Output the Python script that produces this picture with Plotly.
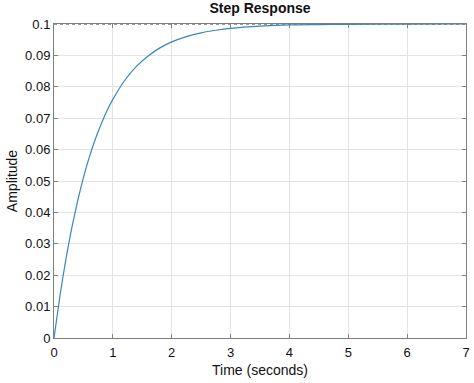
import plotly.graph_objects as go

# Time samples (seconds) and amplitudes
time_s = [0, 0.1, 0.2, 0.3, 0.4, 0.5, 0.6, 0.7, 0.8, 0.9, 1.0, 1.2, 1.4, 1.6, 1.8,
          2.0, 2.25, 2.5, 2.75, 3.0, 3.5, 4.0, 4.5, 5.0, 6.0, 7.0]
amplitude = [0, 0.0133, 0.0249, 0.0349, 0.0435, 0.0511, 0.0576, 0.0632, 0.0681,
             0.0724, 0.0760, 0.0820, 0.0865, 0.0898, 0.0924, 0.0943, 0.0960,
             0.0972, 0.0980, 0.0986, 0.0993, 0.0997, 0.0998, 0.0999, 0.09998, 0.1]
steady_state = 0.1
x_range = [0, 7]
y_tick_vals = [0, 0.01, 0.02, 0.03, 0.04, 0.05, 0.06, 0.07, 0.08, 0.09, 0.1]
y_tick_text = ["0", "0.01", "0.02", "0.03", "0.04", "0.05", "0.06", "0.07", "0.08", "0.09", "0.1"]
x_tick_vals = [0, 1, 2, 3, 4, 5, 6, 7]
x_tick_text = ["0", "1", "2", "3", "4", "5", "6", "7"]

FONT = "Liberation Sans, Arial, Helvetica, sans-serif"

fig = go.Figure()
fig.add_trace(go.Scatter(
    x=x_range, y=[steady_state, steady_state], mode="lines",
    line=dict(color="#333333", width=1, dash="dot"), hoverinfo="skip",
    showlegend=False))
fig.add_trace(go.Scatter(
    x=time_s, y=amplitude, mode="lines",
    line=dict(color="#3a86bd", width=1.2, shape="spline", smoothing=0.6),
    showlegend=False))

axis_common = dict(
    showline=True, linecolor="#7f7f7f", linewidth=1, mirror="ticks",
    ticks="inside", ticklen=4, tickcolor="#7f7f7f",
    showgrid=True, gridcolor="#e3e3e3", gridwidth=1, zeroline=False,
    automargin=False,
    tickfont=dict(family=FONT, size=13, color="#111111"),
)

fig.update_layout(
    width=474, height=383,
    margin=dict(l=54, r=8, t=24, b=45),
    paper_bgcolor="white", plot_bgcolor="white",
    title=dict(text="<b>Step Response</b>", x=0.5, xref="paper", xanchor="center",
               y=1 - 8 / 383, yref="container", yanchor="middle",
               font=dict(family=FONT, size=14, color="#111111")),
    xaxis=dict(range=[x_range[0], x_range[1] + 1e-6], tickvals=x_tick_vals,
               ticktext=x_tick_text, ticklabelstandoff=2,
               title=dict(text="Time (seconds)", standoff=6,
                          font=dict(family=FONT, size=14, color="#111111")),
               **axis_common),
    yaxis=dict(range=[0, 0.1], tickvals=y_tick_vals, ticktext=y_tick_text,
               title=dict(text="Amplitude", standoff=4,
                          font=dict(family=FONT, size=14, color="#111111")),
               **axis_common),
)

fig.write_html("out.html", config={"displayModeBar": False},
               post_script="document.body.style.margin='0';document.body.style.overflow='hidden';")
